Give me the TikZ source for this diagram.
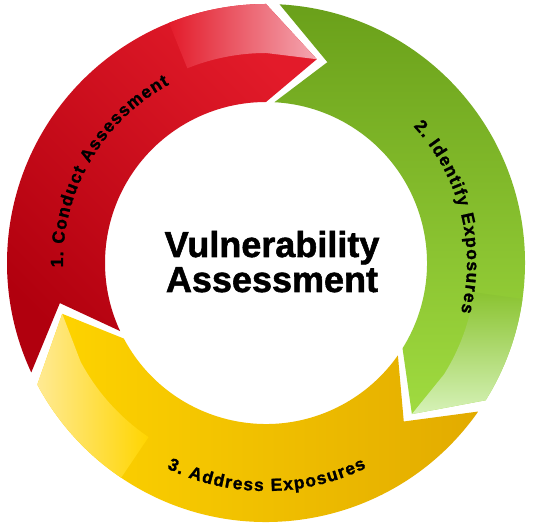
\documentclass[tikz,border=0pt]{standalone}
\usepackage{fontspec}
\usetikzlibrary{decorations.text}
\newfontfamily\heavyfont[FakeBold=1.5]{Liberation Sans Bold}
\newfontfamily\labelfont[FakeBold=1.3]{Liberation Sans Bold}
\definecolor{reddark}{HTML}{B1000E}
\definecolor{redlight}{HTML}{E31B2A}
\definecolor{redgloss}{HTML}{F4A7B1}
\definecolor{greendark}{HTML}{6AA01A}
\definecolor{greenlight}{HTML}{A0DB40}
\definecolor{greengloss}{HTML}{D6F2B8}
\definecolor{yellowlight}{HTML}{FFD500}
\definecolor{yellowdark}{HTML}{E2AB00}
\definecolor{yellowgloss}{HTML}{FFEA94}
\begin{document}
\begin{tikzpicture}[x=1pt,y=1pt]
            \tikzset{
                steplabel/.style={decorate,decoration={text along path,text align=center,text={|\labelfont\fontsize{17.5}{20}\selectfont\kern1.2pt|#1}}},}
            % ring radii: inner, middle, outer
            \def\rin{161} \def\rmid{210} \def\rout{259}
            \def\arrowpath#1#2{(#1:\rout) arc (#1:#2:\rout) -- ({#2-14}:\rmid) -- (#2:\rin) arc (#2:#1:\rin) -- ({#1-14}:\rmid) -- cycle}
            \def\glosspath#1#2{(#1:\rout) arc (#1:#2:\rout) -- ({#2-14}:\rmid) -- (#2:\rmid) arc (#2:#1:\rmid) -- cycle}
            \fill[white] (-266,-266) rectangle (268,263);
            \useasboundingbox (-266,-266) rectangle (268,263);
            % the three arrows
            \shade[bottom color=reddark, top color=redlight, shading angle=-45] \arrowpath{205}{90};
            \shade[top color=greendark, bottom color=greenlight] \arrowpath{87}{-32};
            \shade[left color=yellowlight, right color=yellowdark] \arrowpath{-35}{-152};
            % glossy parts near the heads
            \shade[left color=redlight, right color=redgloss] \glosspath{112}{90};
            \shade[top color=greenlight!60!greendark, bottom color=greengloss] \glosspath{-8}{-32};
            \shade[left color=yellowgloss, right color=yellowlight] \glosspath{-124}{-152};
            % \draw[dotted] (0,0) circle (\rmid);
            \path[steplabel={1. Conduct Assessment}] (185:203) arc (185:115:203);
            \path[steplabel={2. Identify Exposures}] (50:201) arc (50:-21:201);
            \path[steplabel={3. Address Exposures}] (235:228) arc (235:305:228);
            \node[font=\heavyfont\fontsize{36}{35}\selectfont, align=center, anchor=base] (title) at (6,-29) {Vulnerability\\Assessment};
        \end{tikzpicture}
\end{document}
